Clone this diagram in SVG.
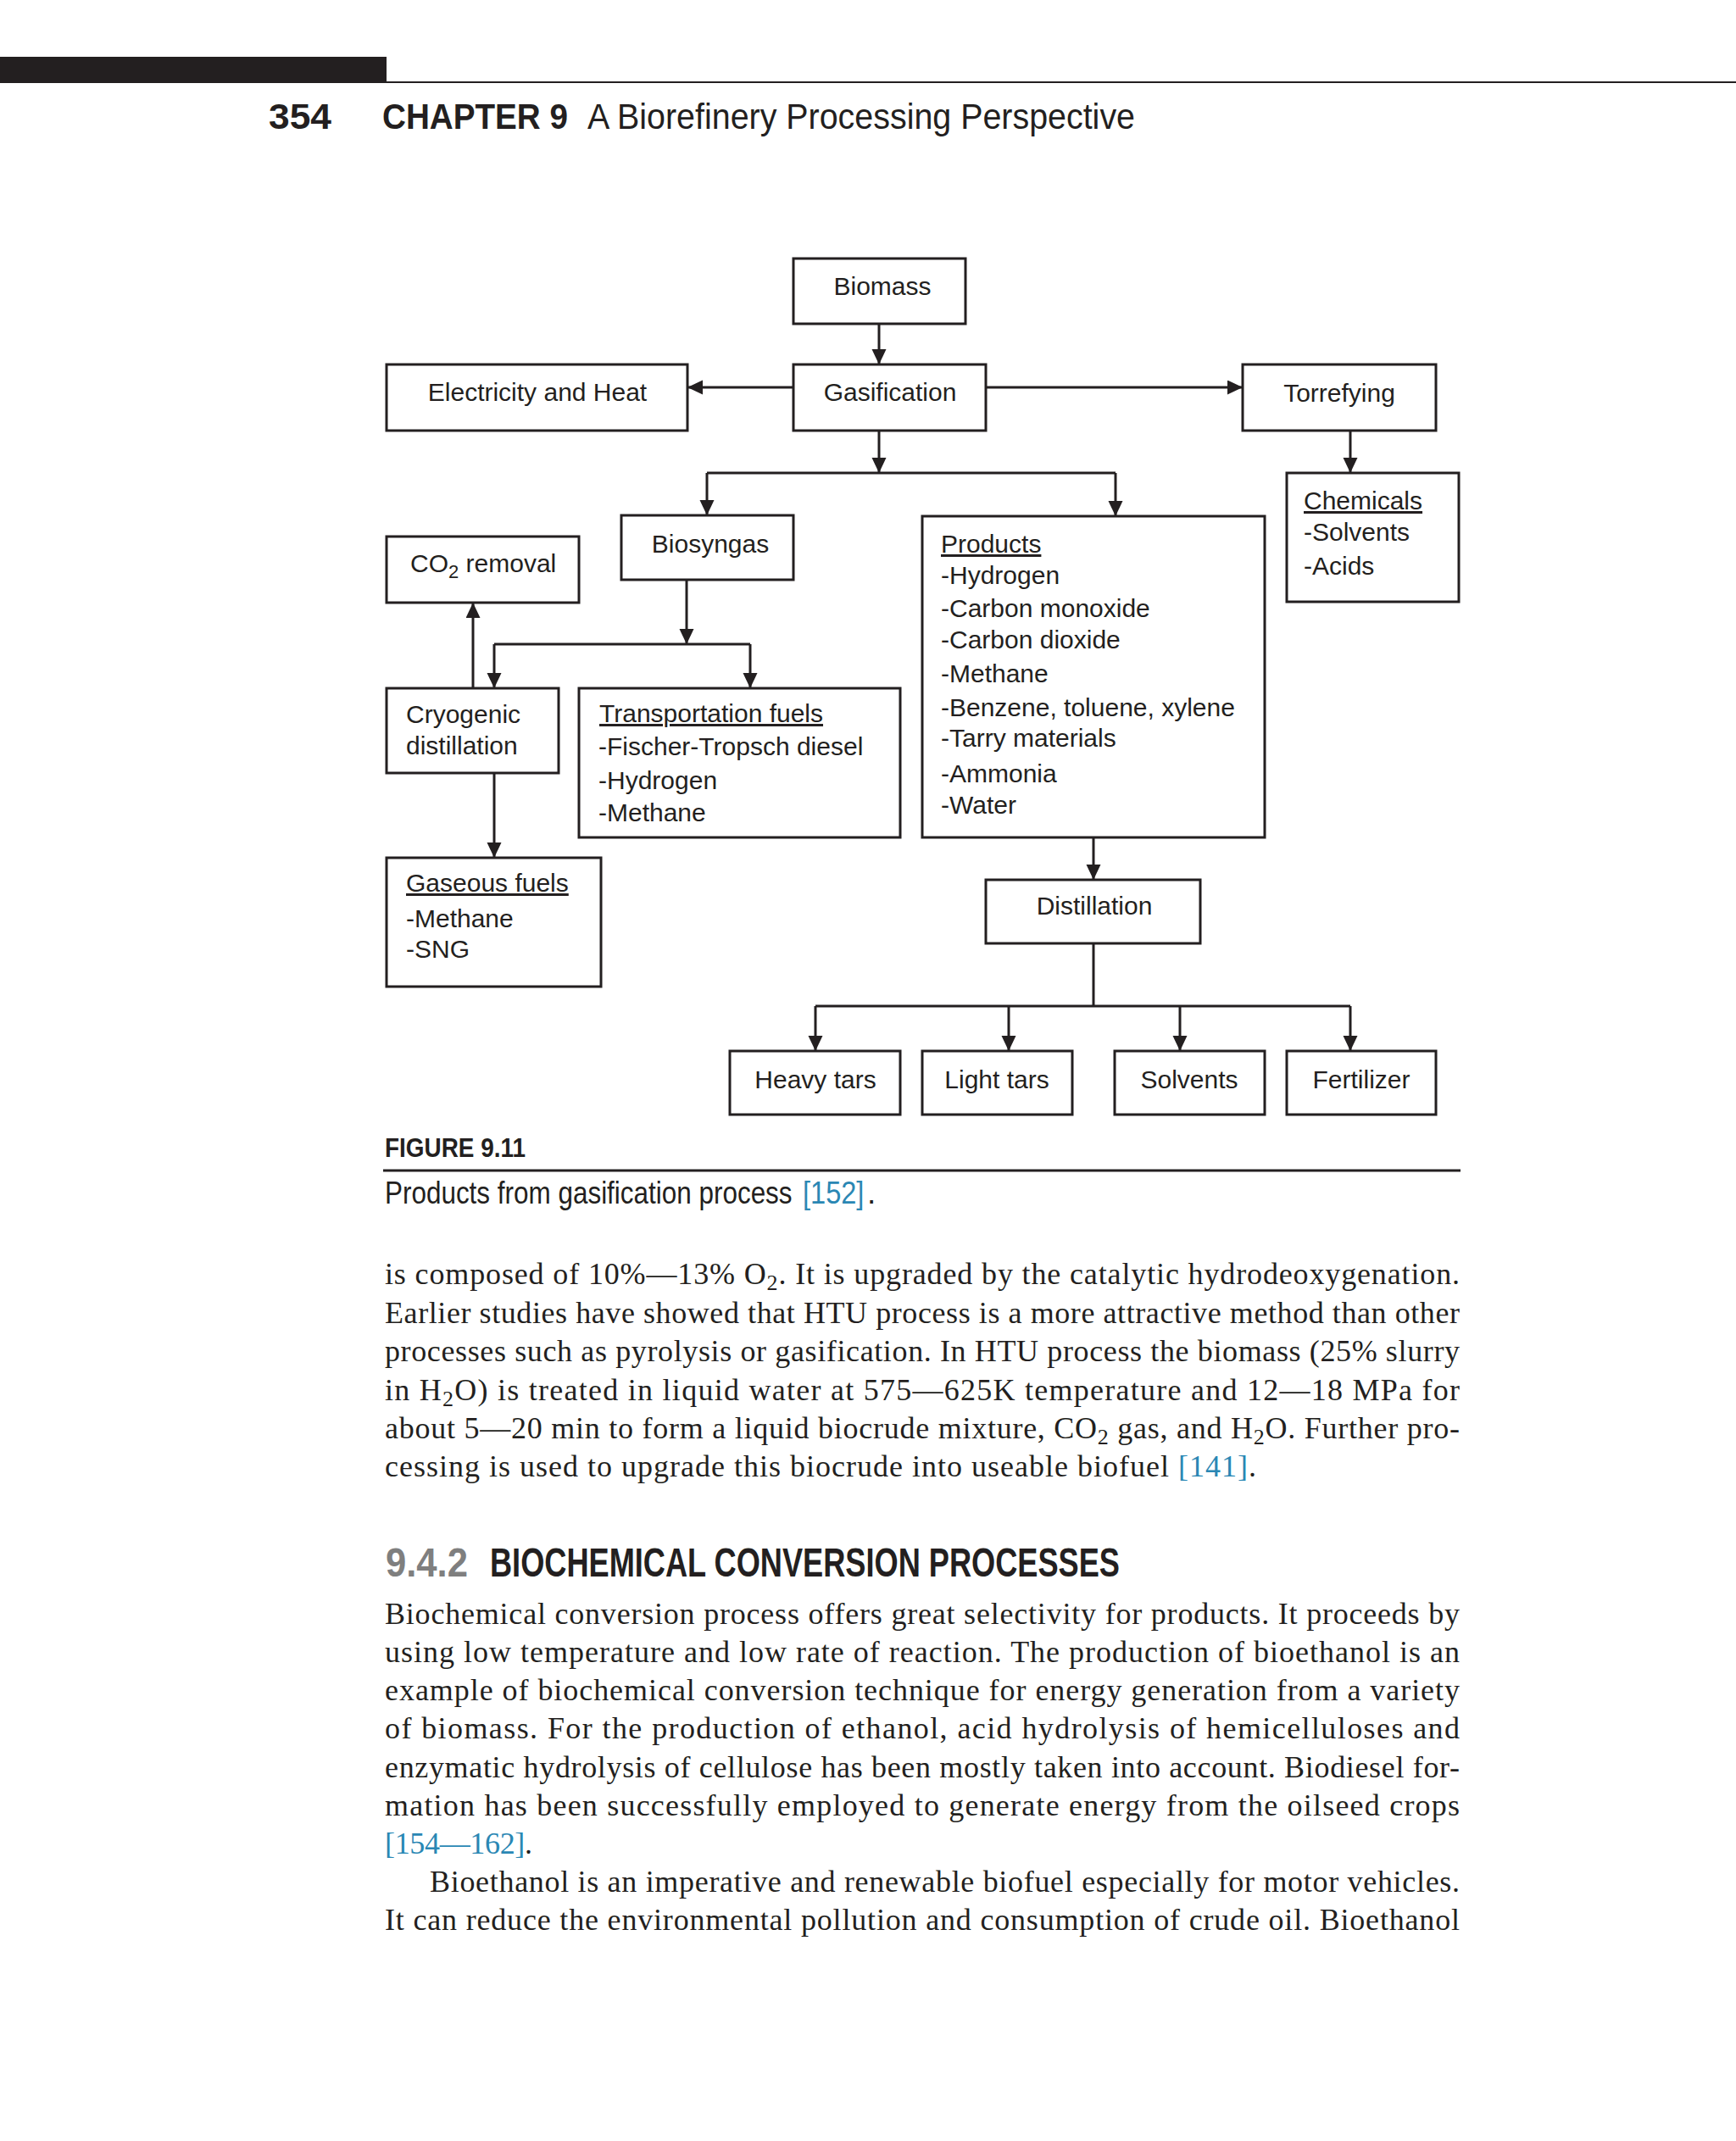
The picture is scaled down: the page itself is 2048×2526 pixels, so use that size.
<svg xmlns="http://www.w3.org/2000/svg" width="2048" height="2526" viewBox="0 0 2048 2526">
<defs>
<marker id="ah" markerUnits="userSpaceOnUse" markerWidth="20" markerHeight="18" refX="18" refY="8.5" orient="auto">
<path d="M0,0 L18,8.5 L0,17 z" fill="#231f20"/>
</marker>
<style>
.box{fill:#ffffff;stroke:#231f20;stroke-width:3}
.lbl{font-family:"Liberation Sans",Arial,sans-serif;font-size:30px;fill:#231f20}
.mid{text-anchor:middle}
.ul{text-decoration:underline}
.con path{fill:none;stroke:#231f20;stroke-width:3}
.body{font-family:"Liberation Serif","Times New Roman",serif;font-size:36px;fill:#231f20}
.hdr{font-family:"Liberation Sans",Arial,sans-serif;fill:#231f20}
.cite{fill:#2a87b4}
</style>
</defs>
<rect width="2048" height="2526" fill="#ffffff"/>

<!-- page header -->
<g id="page-header">
<rect x="0" y="67" width="456" height="31" fill="#231f20"/>
<line x1="456" y1="97" x2="2048" y2="97" stroke="#231f20" stroke-width="2"/>
<text class="hdr" x="317" y="152" font-size="43" font-weight="bold" textLength="74" lengthAdjust="spacingAndGlyphs">354</text>
<text class="hdr" x="451" y="152" font-size="43" font-weight="bold" textLength="219" lengthAdjust="spacingAndGlyphs">CHAPTER 9</text>
<text class="hdr" x="693" y="152" font-size="43" textLength="646" lengthAdjust="spacingAndGlyphs">A Biorefinery Processing Perspective</text>
</g>

<!-- connectors -->
<g id="connectors" class="con">
<path d="M1037,382 V430" marker-end="url(#ah)"/>
<path d="M936,457 H811" marker-end="url(#ah)"/>
<path d="M1163,457 H1466" marker-end="url(#ah)"/>
<path d="M1593,508 V558" marker-end="url(#ah)"/>
<path d="M1037,508 V558" marker-end="url(#ah)"/>
<path d="M834,558 H1316"/>
<path d="M834,558 V608" marker-end="url(#ah)"/>
<path d="M1316,558 V609" marker-end="url(#ah)"/>
<path d="M810,684 V760" marker-end="url(#ah)"/>
<path d="M583,760 H885"/>
<path d="M583,760 V812" marker-end="url(#ah)"/>
<path d="M885,760 V812" marker-end="url(#ah)"/>
<path d="M558,812 V711" marker-end="url(#ah)"/>
<path d="M583,912 V1012" marker-end="url(#ah)"/>
<path d="M1290,988 V1038" marker-end="url(#ah)"/>
<path d="M1290,1113 V1187"/>
<path d="M962,1187 H1593"/>
<path d="M962,1187 V1240" marker-end="url(#ah)"/>
<path d="M1190,1187 V1240" marker-end="url(#ah)"/>
<path d="M1392,1187 V1240" marker-end="url(#ah)"/>
<path d="M1593,1187 V1240" marker-end="url(#ah)"/>
</g>

<!-- nodes -->
<g id="biomass"><rect class="box" x="936" y="305" width="203" height="77"/><text class="lbl mid" x="1041" y="348">Biomass</text></g>
<g id="gasification"><rect class="box" x="936" y="430" width="227" height="78"/><text class="lbl mid" x="1050" y="473">Gasification</text></g>
<g id="electricity-heat"><rect class="box" x="456" y="430" width="355" height="78"/><text class="lbl mid" x="634" y="473">Electricity and Heat</text></g>
<g id="torrefying"><rect class="box" x="1466" y="430" width="228" height="78"/><text class="lbl mid" x="1580" y="474">Torrefying</text></g>
<g id="chemicals"><rect class="box" x="1518" y="558" width="203" height="152"/>
<text class="lbl" x="1538" y="601"><tspan class="ul">Chemicals</tspan></text>
<text class="lbl" x="1538" y="638">-Solvents</text>
<text class="lbl" x="1538" y="678">-Acids</text></g>
<g id="biosyngas"><rect class="box" x="733" y="608" width="203" height="76"/><text class="lbl mid" x="838" y="652">Biosyngas</text></g>
<g id="products"><rect class="box" x="1088" y="609" width="404" height="379"/>
<text class="lbl" x="1110" y="652"><tspan class="ul">Products</tspan></text>
<text class="lbl" x="1110" y="689">-Hydrogen</text>
<text class="lbl" x="1110" y="728">-Carbon monoxide</text>
<text class="lbl" x="1110" y="765">-Carbon dioxide</text>
<text class="lbl" x="1110" y="805">-Methane</text>
<text class="lbl" x="1110" y="845">-Benzene, toluene, xylene</text>
<text class="lbl" x="1110" y="881">-Tarry materials</text>
<text class="lbl" x="1110" y="923">-Ammonia</text>
<text class="lbl" x="1110" y="960">-Water</text></g>
<g id="co2-removal"><rect class="box" x="456" y="633" width="227" height="78"/><text class="lbl" x="484" y="675">CO<tspan dy="7" font-size="22">2</tspan><tspan dy="-7"> removal</tspan></text></g>
<g id="cryogenic-distillation"><rect class="box" x="456" y="812" width="203" height="100"/>
<text class="lbl" x="479" y="853">Cryogenic</text>
<text class="lbl" x="479" y="890">distillation</text></g>
<g id="transportation-fuels"><rect class="box" x="683" y="812" width="379" height="176"/>
<text class="lbl" x="707" y="852"><tspan class="ul">Transportation fuels</tspan></text>
<text class="lbl" x="706" y="891">-Fischer-Tropsch diesel</text>
<text class="lbl" x="706" y="931">-Hydrogen</text>
<text class="lbl" x="706" y="969">-Methane</text></g>
<g id="gaseous-fuels"><rect class="box" x="456" y="1012" width="253" height="152"/>
<text class="lbl" x="479" y="1052"><tspan class="ul">Gaseous fuels</tspan></text>
<text class="lbl" x="479" y="1094">-Methane</text>
<text class="lbl" x="479" y="1130">-SNG</text></g>
<g id="distillation"><rect class="box" x="1163" y="1038" width="253" height="75"/><text class="lbl mid" x="1291" y="1079">Distillation</text></g>
<g id="heavy-tars"><rect class="box" x="861" y="1240" width="201" height="75"/><text class="lbl mid" x="962" y="1284">Heavy tars</text></g>
<g id="light-tars"><rect class="box" x="1088" y="1240" width="177" height="75"/><text class="lbl mid" x="1176" y="1284">Light tars</text></g>
<g id="solvents"><rect class="box" x="1315" y="1240" width="177" height="75"/><text class="lbl mid" x="1403" y="1284">Solvents</text></g>
<g id="fertilizer"><rect class="box" x="1518" y="1240" width="176" height="75"/><text class="lbl mid" x="1606" y="1284">Fertilizer</text></g>

<!-- caption -->
<g id="caption">
<text class="hdr" x="454" y="1365" font-size="32" font-weight="bold" textLength="166" lengthAdjust="spacingAndGlyphs">FIGURE 9.11</text>
<line x1="452" y1="1381" x2="1723" y2="1381" stroke="#231f20" stroke-width="3"/>
<text class="hdr" transform="translate(454,1420) scale(0.85,1)" x="0" y="0" font-size="37">Products from gasification process</text>
<text class="hdr" transform="translate(947,1420) scale(0.88,1)" x="0" y="0" font-size="37" style="fill:#2a87b4">[152]</text>
<text class="hdr" x="1023" y="1420" font-size="37">.</text>
</g>

<!-- body text -->
<g id="body-text" class="body">
<text x="454" y="1515" textLength="1268" lengthAdjust="spacing">is composed of 10%—13% O<tspan dy="7" font-size="26">2</tspan><tspan dy="-7">. It is upgraded by the catalytic hydrodeoxygenation.</tspan></text>
<text x="454" y="1561" textLength="1268" lengthAdjust="spacing">Earlier studies have showed that HTU process is a more attractive method than other</text>
<text x="454" y="1606" textLength="1268" lengthAdjust="spacing">processes such as pyrolysis or gasification. In HTU process the biomass (25% slurry</text>
<text x="454" y="1652" textLength="1268" lengthAdjust="spacing">in H<tspan dy="7" font-size="26">2</tspan><tspan dy="-7">O) is treated in liquid water at 575—625K temperature and 12—18 MPa for</tspan></text>
<text x="454" y="1697" textLength="1268" lengthAdjust="spacing">about 5—20 min to form a liquid biocrude mixture, CO<tspan dy="7" font-size="26">2</tspan><tspan dy="-7"> gas, and H</tspan><tspan dy="7" font-size="26">2</tspan><tspan dy="-7">O. Further pro-</tspan></text>
<text x="454" y="1742" textLength="1028" lengthAdjust="spacing">cessing is used to upgrade this biocrude into useable biofuel <tspan class="cite">[141]</tspan>.</text>
</g>

<g id="section-heading">
<text class="hdr" x="455" y="1860" font-size="48" font-weight="bold" style="fill:#7f7f7f" textLength="97" lengthAdjust="spacingAndGlyphs">9.4.2</text>
<text class="hdr" x="578" y="1860" font-size="48" font-weight="bold" textLength="743" lengthAdjust="spacingAndGlyphs">BIOCHEMICAL CONVERSION PROCESSES</text>
</g>

<g id="body-text-2" class="body">
<text x="454" y="1916" textLength="1268" lengthAdjust="spacing">Biochemical conversion process offers great selectivity for products. It proceeds by</text>
<text x="454" y="1961" textLength="1268" lengthAdjust="spacing">using low temperature and low rate of reaction. The production of bioethanol is an</text>
<text x="454" y="2006" textLength="1268" lengthAdjust="spacing">example of biochemical conversion technique for energy generation from a variety</text>
<text x="454" y="2051" textLength="1268" lengthAdjust="spacing">of biomass. For the production of ethanol, acid hydrolysis of hemicelluloses and</text>
<text x="454" y="2097" textLength="1268" lengthAdjust="spacing">enzymatic hydrolysis of cellulose has been mostly taken into account. Biodiesel for-</text>
<text x="454" y="2142" textLength="1268" lengthAdjust="spacing">mation has been successfully employed to generate energy from the oilseed crops</text>
<text x="454" y="2187" textLength="174" lengthAdjust="spacing"><tspan class="cite">[154—162]</tspan>.</text>
<text x="507" y="2232" textLength="1215" lengthAdjust="spacing">Bioethanol is an imperative and renewable biofuel especially for motor vehicles.</text>
<text x="454" y="2277" textLength="1268" lengthAdjust="spacing">It can reduce the environmental pollution and consumption of crude oil. Bioethanol</text>
</g>
</svg>
